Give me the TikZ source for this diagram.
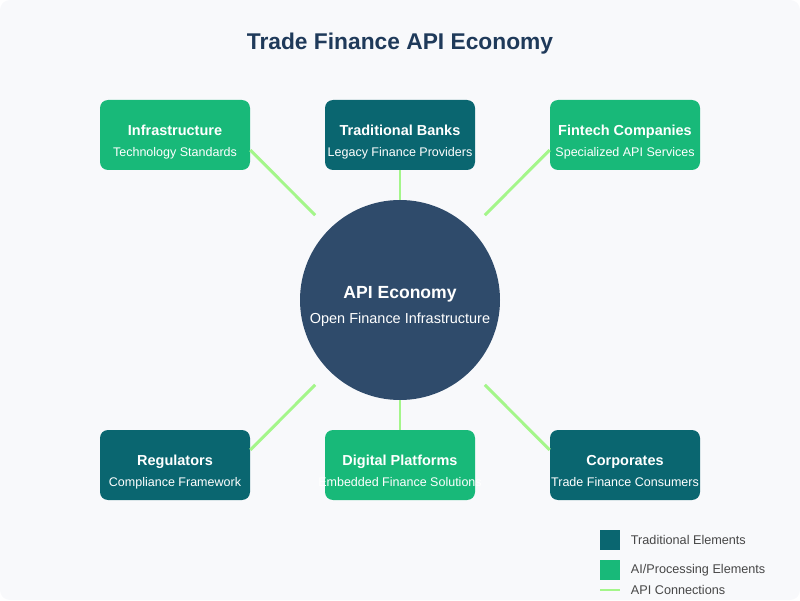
\documentclass[tikz,border=0pt]{standalone}
\usepackage{fontspec}
\setmainfont{Liberation Sans}
\usepackage{tikz}
\usetikzlibrary{positioning,calc}

\definecolor{tradteal}{HTML}{0A6670}
\definecolor{procgreen}{HTML}{18B979}
\definecolor{apigreen}{HTML}{A4F68A}
\definecolor{hubblue}{HTML}{2F4B6B}
\definecolor{titleblue}{HTML}{1F3A5A}
\definecolor{bgpanel}{HTML}{F8F9FB}

\begin{document}
\begin{tikzpicture}[
    font=\fontsize{8.9}{11}\selectfont,
    box/.style={rounded corners=5.7pt, minimum width=3.75cm, minimum height=1.75cm, align=center, text=white,
                inner ysep=0pt, inner xsep=-0.5cm, text height=32pt, text depth=2pt},
    trad/.style={box, fill=tradteal},
    proc/.style={box, fill=procgreen},
    api/.style={draw=apigreen, line width=2.1pt},
    legsq/.style={minimum size=0.5cm, inner sep=0pt},
    legtxt/.style={anchor=west, text=black!72, font=\fontsize{9}{11}\selectfont},
  ]
    \fill[bgpanel, rounded corners=7pt] (0,0) rectangle (20,15);
    \useasboundingbox (0,0) rectangle (20,15);

    \node[text=titleblue, font=\fontsize{16.2}{19}\selectfont\bfseries] (title) at (10,13.9) {Trade Finance API Economy};

    \node[circle, fill=hubblue, minimum size=5cm, align=center, text=white, inner sep=0pt, text height=36pt] (hub) at (10,7.5)
      {{\fontsize{12.5}{15}\selectfont\bfseries API Economy}\\[7pt]{\fontsize{10.3}{12.5}\selectfont Open Finance Infrastructure}};

    \node[proc] (infra)   at (4.375,11.625)  {{\fontsize{10.3}{12}\selectfont\bfseries Infrastructure}\\[3.5pt]Technology Standards};
    \node[trad] (banks)   at (10,11.625)     {{\fontsize{10.3}{12}\selectfont\bfseries Traditional Banks}\\[3.5pt]Legacy Finance Providers};
    \node[proc] (fintech) at (15.625,11.625) {{\fontsize{10.3}{12}\selectfont\bfseries Fintech Companies}\\[3.5pt]Specialized API Services};
    \node[trad] (regul)   at (4.375,3.375)   {{\fontsize{10.3}{12}\selectfont\bfseries Regulators}\\[3.5pt]Compliance Framework};
    \node[proc] (digital) at (10,3.375)      {{\fontsize{10.3}{12}\selectfont\bfseries Digital Platforms}\\[3.5pt]Embedded Finance Solutions};
    \node[trad] (corp)    at (15.625,3.375)  {{\fontsize{10.3}{12}\selectfont\bfseries Corporates}\\[3.5pt]Trade Finance Consumers};

    % api links
    \foreach \b/\s/\dy/\ang in {infra/east/-0.375/135, fintech/west/-0.375/45, regul/east/0.375/225, corp/west/0.375/315}
      \draw[api] ($(\b.\s)+(0,\dy)$) -- ($(hub)+(\ang:3cm)$);
    \draw[api] (banks.south) -- (hub.north);
    \draw[api] (digital.north) -- (hub.south);

    % legend
    \node[legsq, fill=tradteal]  (legtrad) at (15.25,1.5)  {};
    \node[legsq, fill=procgreen] (legproc) at (15.25,0.75) {};
    \coordinate (lega) at (15,0.25);
    \coordinate (legb) at (15.5,0.25);
    \draw[api] (lega) -- (legb);
    \node[legtxt] (legtradtxt) at (15.65,1.5)  {Traditional Elements};
    \node[legtxt] (legproctxt) at (15.65,0.75) {AI/Processing Elements};
    \node[legtxt] (legapitxt)  at (15.65,0.25) {API Connections};
\end{tikzpicture}
\end{document}
